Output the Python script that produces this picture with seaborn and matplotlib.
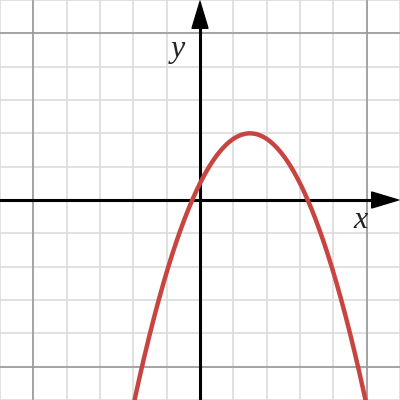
import numpy as np
import pandas as pd
import seaborn as sns
import matplotlib.pyplot as plt

# parabola: vertex (1.5, 2), opens downward
vertex_x = 1.5
vertex_y = 2.0
lead_coef = -2 / 3
x_range = [-2.1, 5.1]

minor_ticks = np.arange(-6, 7, 1)
major_ticks = [-5, 0, 5]

xs = np.linspace(x_range[0], x_range[1], 400)
df = pd.DataFrame({"x": xs, "y": lead_coef * (xs - vertex_x) ** 2 + vertex_y})

sns.set_style("white")
fig = plt.figure(figsize=(4, 4), dpi=100)
ax = fig.add_axes([0, 0, 1, 1])

# grid
for t in minor_ticks:
    ax.axvline(t, color="#dcdcdc", lw=1.2, zorder=0)
    ax.axhline(t, color="#dcdcdc", lw=1.2, zorder=0)
for t in major_ticks:
    ax.axvline(t, color="#9a9a9a", lw=1.2, zorder=1)
    ax.axhline(t, color="#9a9a9a", lw=1.2, zorder=1)

# axes with arrows
ax.plot([-6, 5.2], [0, 0], color="black", lw=2.2, zorder=2)
ax.plot([0, 0], [-6, 5.2], color="black", lw=2.2, zorder=2)
ax.fill([5.15, 5.15, 5.95], [0.24, -0.24, 0], color="black", zorder=3)
ax.fill([-0.24, 0.24, 0], [5.15, 5.15, 5.95], color="black", zorder=3)

sns.lineplot(data=df, x="x", y="y", color="#c74440", lw=3.2, ax=ax, zorder=4)

ax.text(-0.68, 4.5, "y", fontsize=23, family="Liberation Serif", style="italic",
        ha="center", va="center")
ax.text(4.82, -0.62, "x", fontsize=23, family="Liberation Serif", style="italic",
        ha="center", va="center")

ax.set_xlim(-6, 6)
ax.set_ylim(-6, 6)
ax.set_xlabel("")
ax.set_ylabel("")
ax.set_xticks([])
ax.set_yticks([])
for s in ax.spines.values():
    s.set_visible(False)

fig.savefig("out.png", dpi=100)
